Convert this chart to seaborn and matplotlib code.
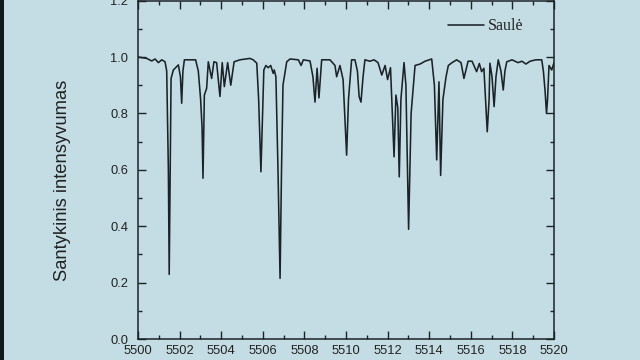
import numpy as np
import pandas as pd
import matplotlib
matplotlib.use("Agg")
import matplotlib.pyplot as plt
import seaborn as sns
from matplotlib.ticker import MultipleLocator
from matplotlib.patches import Rectangle

# Wavelength (Angstrom) and relative intensity
wavelength = [
    5500.01, 5500.42, 5500.66, 5500.82, 5500.98, 5501.14, 5501.30, 5501.38, 5501.46, 5501.50,
    5501.55, 5501.59, 5501.70, 5501.86, 5501.94, 5502.04, 5502.10, 5502.16, 5502.23, 5502.50,
    5502.77, 5502.90, 5503.01, 5503.08, 5503.125, 5503.19, 5503.30, 5503.38, 5503.54, 5503.65,
    5503.78, 5503.94, 5504.05, 5504.15, 5504.31, 5504.46, 5504.62, 5504.90, 5505.38, 5505.54,
    5505.71, 5505.80, 5505.91, 5506.05, 5506.15, 5506.26, 5506.38, 5506.50, 5506.55, 5506.63,
    5506.73, 5506.83, 5506.90, 5506.97, 5507.15, 5507.31, 5507.71, 5507.84, 5507.95, 5508.27,
    5508.41, 5508.51, 5508.61, 5508.70, 5508.83, 5509.23, 5509.47, 5509.55, 5509.71, 5509.86,
    5509.95, 5510.03, 5510.12, 5510.27, 5510.43, 5510.55, 5510.63, 5510.72, 5510.82, 5510.91,
    5511.15, 5511.35, 5511.54, 5511.72, 5511.88, 5512.00, 5512.14, 5512.31, 5512.40, 5512.49,
    5512.56, 5512.64, 5512.79, 5512.88, 5513.01, 5513.13, 5513.32, 5513.56, 5513.80, 5514.12,
    5514.25, 5514.36, 5514.47, 5514.55, 5514.66, 5514.81, 5514.92, 5515.10, 5515.32, 5515.53,
    5515.67, 5515.87, 5516.06, 5516.28, 5516.41, 5516.52, 5516.63, 5516.71, 5516.79, 5516.88,
    5516.92, 5517.02, 5517.12, 5517.21, 5517.32, 5517.45, 5517.56, 5517.64, 5517.73, 5517.98,
    5518.27, 5518.46, 5518.65, 5518.85, 5519.13, 5519.41, 5519.49, 5519.57, 5519.64, 5519.69,
    5519.76, 5519.89, 5520.00,
]
intensity = [
    1.00, 0.995, 0.986, 0.993, 0.98, 0.99, 0.983, 0.95, 0.60, 0.229,
    0.60, 0.924, 0.954, 0.966, 0.972, 0.93, 0.836, 0.95, 0.99, 0.99,
    0.99, 0.95, 0.85, 0.75, 0.57, 0.865, 0.889, 0.983, 0.924, 0.983,
    0.98, 0.86, 0.98, 0.895, 0.98, 0.90, 0.983, 0.99, 0.995, 0.99,
    0.978, 0.85, 0.593, 0.954, 0.97, 0.962, 0.97, 0.942, 0.954, 0.93,
    0.60, 0.215, 0.60, 0.90, 0.983, 0.993, 0.99, 0.97, 0.99, 0.986,
    0.93, 0.84, 0.96, 0.855, 0.99, 0.99, 0.97, 0.93, 0.97, 0.92,
    0.78, 0.652, 0.85, 0.99, 0.99, 0.95, 0.86, 0.84, 0.93, 0.99,
    0.985, 0.99, 0.98, 0.936, 0.97, 0.92, 0.962, 0.646, 0.865, 0.82,
    0.575, 0.85, 0.98, 0.90, 0.389, 0.80, 0.97, 0.975, 0.985, 0.993,
    0.90, 0.635, 0.912, 0.58, 0.85, 0.93, 0.97, 0.98, 0.99, 0.98,
    0.924, 0.985, 0.985, 0.948, 0.977, 0.948, 0.96, 0.85, 0.735, 0.85,
    0.978, 0.93, 0.824, 0.93, 0.99, 0.95, 0.883, 0.95, 0.983, 0.99,
    0.98, 0.985, 0.975, 0.985, 0.99, 0.99, 0.95, 0.88, 0.80, 0.85,
    0.97, 0.954, 0.98,
]
series_label = "Saulė"
x_ticks = [5500, 5502, 5504, 5506, 5508, 5510, 5512, 5514, 5516, 5518, 5520]
y_ticks = [0.0, 0.2, 0.4, 0.6, 0.8, 1.0, 1.2]
y_title = "Santykinis intensyvumas"

df = pd.DataFrame({"wl": wavelength, "I": intensity})

bg = "#c4dde4"
ink = "#1b2328"

sns.set_theme(style="ticks")
plt.rcParams["font.family"] = ["Liberation Sans", "DejaVu Sans"]

fig = plt.figure(figsize=(6.4, 3.6), dpi=100, facecolor=bg)
ax = fig.add_axes([138 / 640, 1 - 339 / 360, 416 / 640, 338.4 / 360])
ax.set_facecolor(bg)

sns.lineplot(data=df, x="wl", y="I", ax=ax, color=ink, linewidth=1.15,
             label=series_label, sort=False)

ax.set_xlim(5500, 5520)
ax.set_ylim(0, 1.2)
ax.set_xticks(x_ticks)
ax.set_yticks(y_ticks)
ax.set_xticklabels([str(t) for t in x_ticks])
ax.set_yticklabels([f"{t:.1f}" for t in y_ticks])
ax.xaxis.set_minor_locator(MultipleLocator(1))
ax.yaxis.set_minor_locator(MultipleLocator(0.1))

for s in ax.spines.values():
    s.set_visible(True)
    s.set_linewidth(1.1)
    s.set_color(ink)

ax.tick_params(which="both", direction="in", top=True, right=True, color=ink,
               width=1.0, labelsize=9.3, labelcolor="#222222")
ax.tick_params(which="major", length=5.5)
ax.tick_params(which="minor", length=3)
ax.tick_params(axis="x", which="major", pad=4)
ax.tick_params(axis="y", which="major", pad=7)

ax.set_xlabel("")
ax.set_ylabel(y_title, fontsize=13.2, color="#222222")
ax.yaxis.set_label_coords(-0.161, 0.47)

leg = ax.legend(loc="upper right", frameon=False, handlelength=2.3,
                handletextpad=0.2, bbox_to_anchor=(0.96, 0.99),
                prop={"family": "Liberation Serif", "size": 11.5})
for t in leg.get_texts():
    t.set_color("#222222")

# dark strip at the left edge of the photographed slide
fig.patches.append(Rectangle((0, 0), 4 / 640, 1, transform=fig.transFigure,
                             facecolor="#10181c", edgecolor="none", zorder=10))

fig.savefig("out.png", dpi=100, facecolor=bg)
